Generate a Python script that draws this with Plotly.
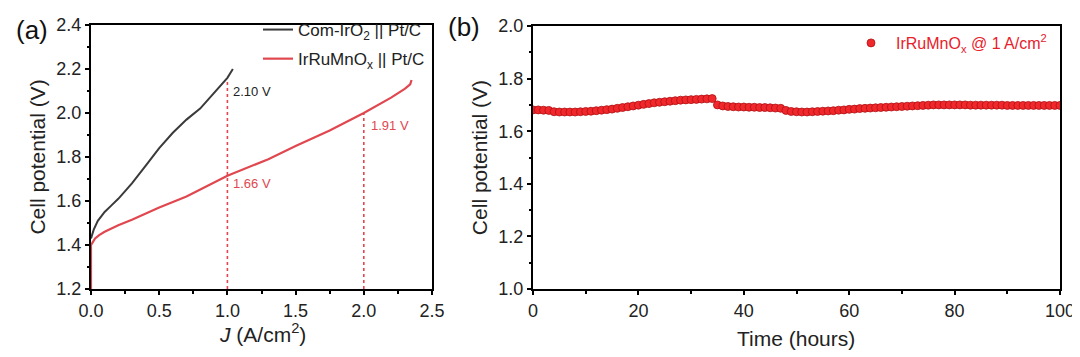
import plotly.graph_objects as go

# ---------------- Panel (a) data: polarization curves ----------------
com_J = [0.0, 0.02, 0.05, 0.10, 0.15, 0.20, 0.25, 0.30, 0.40, 0.50, 0.60, 0.70, 0.80, 0.90, 1.00, 1.04]
com_V = [1.43, 1.47, 1.51, 1.55, 1.58, 1.61, 1.645, 1.68, 1.76, 1.84, 1.91, 1.97, 2.02, 2.09, 2.16, 2.20]

irru_J = [0.0, 0.0, 0.0, 0.01, 0.03, 0.06, 0.10, 0.20, 0.30, 0.50, 0.70, 1.00, 1.30, 1.50, 1.75, 2.00, 2.20, 2.30, 2.34, 2.35]
irru_V = [1.20, 1.30, 1.40, 1.41, 1.43, 1.445, 1.46, 1.49, 1.515, 1.57, 1.62, 1.715, 1.79, 1.85, 1.92, 2.00, 2.07, 2.11, 2.13, 2.15]

guide_J = [1.0, 2.0]
guide_top = [2.15, 2.0]
guide_bottom = 1.2

label_J = [1.03, 2.04, 1.03]
label_V = [2.10, 1.945, 1.68]
label_text = ["2.10 V", "1.91 V", "1.66 V"]
label_color = ["#222222", "#e0474f", "#e0474f"]

# ---------------- Panel (b) data: stability ----------------
stab_time = list(range(101))
stab_V = [
    1.681, 1.681, 1.680, 1.679, 1.674, 1.673, 1.673, 1.673, 1.673, 1.674,
    1.675, 1.676, 1.678, 1.680, 1.682, 1.684, 1.687, 1.690, 1.693, 1.696,
    1.699, 1.702, 1.705, 1.708, 1.710, 1.712, 1.714, 1.716, 1.718, 1.719,
    1.720, 1.721, 1.722, 1.723, 1.724, 1.700, 1.696, 1.694, 1.693, 1.692,
    1.692, 1.691, 1.691, 1.690, 1.690, 1.689, 1.688, 1.687, 1.679, 1.675,
    1.674, 1.673, 1.673, 1.674, 1.675, 1.676, 1.677, 1.678, 1.680, 1.681,
    1.683, 1.684, 1.686, 1.687, 1.688, 1.689, 1.690, 1.691, 1.692, 1.693,
    1.694, 1.695, 1.696, 1.697, 1.698, 1.699, 1.700, 1.700, 1.700, 1.700,
    1.700, 1.700, 1.700, 1.699, 1.699, 1.699, 1.699, 1.699, 1.699, 1.699,
    1.698, 1.698, 1.698, 1.698, 1.698, 1.698, 1.698, 1.698, 1.698, 1.698, 1.698,
]

RED = "#e0474f"
BLACK = "#3a3a3a"
FONT = "Liberation Sans"

# page has an 8px body margin: the figure is sized to fill the rest of the window
OFF = 8
W, H = 1080 - OFF, 357 - OFF


def px(X):
    return (X - OFF) / W


def py(Y):
    return 1 - (Y - OFF) / H


fig = go.Figure()

# dotted guide lines (panel a)
for j, top in zip(guide_J, guide_top):
    fig.add_trace(go.Scatter(x=[j, j], y=[guide_bottom, top], mode="lines",
                             line=dict(color=RED, width=1.6, dash="dot"),
                             showlegend=False, hoverinfo="skip",
                             xaxis="x", yaxis="y"))

fig.add_trace(go.Scatter(x=com_J, y=com_V, mode="lines", name="Com-IrO<sub>2</sub> || Pt/C",
                         line=dict(color=BLACK, width=2), xaxis="x", yaxis="y",
                         legend="legend", legendgroup="g1"))
fig.add_trace(go.Scatter(x=irru_J, y=irru_V, mode="lines", name="IrRuMnO<sub>x</sub> || Pt/C",
                         line=dict(color=RED, width=2.2), xaxis="x", yaxis="y",
                         legend="legend", legendgroup="g2"))

fig.add_trace(go.Scatter(x=stab_time, y=stab_V, mode="markers",
                         name="IrRuMnO<sub>x</sub> @ 1 A/cm<sup>2</sup>",
                         marker=dict(symbol="circle", size=8, color="#f0282c",
                                     line=dict(color="#b01014", width=0.8)),
                         xaxis="x2", yaxis="y2", legend="legend2"))

for j, v, t, c in zip(label_J, label_V, label_text, label_color):
    fig.add_annotation(x=j, y=v, xref="x", yref="y", text=t, showarrow=False,
                       xanchor="left", yanchor="middle",
                       font=dict(family=FONT, size=13, color=c))

axis_common = dict(showline=True, linecolor="black", linewidth=2, mirror=True,
                   ticks="outside", ticklen=4, tickwidth=2, tickcolor="black",
                   showgrid=False, zeroline=False, automargin=False,
                   tickfont=dict(family=FONT, size=18, color="#222222"))
minor_common = dict(ticks="outside", ticklen=2.5, tickwidth=2, tickcolor="black")

fig.update_layout(
    width=W, height=H,
    margin=dict(l=0, r=0, t=0, b=0),
    paper_bgcolor="white", plot_bgcolor="white",
    font=dict(family=FONT, color="#222222"),
    xaxis=dict(domain=[px(91), px(432)], range=[0, 2.5], dtick=0.5, tickformat=".1f",
               minor=dict(dtick=0.25, **minor_common),
               anchor="y", **axis_common),
    yaxis=dict(domain=[py(289), py(25)], range=[1.2, 2.4], dtick=0.2, tickformat=".1f",
               minor=dict(dtick=0.1, **minor_common),
               title=dict(text="Cell potential (V)", font=dict(family=FONT, size=21), standoff=5),
               anchor="x", **axis_common),
    xaxis2=dict(domain=[px(533), px(1060)], range=[0, 100], dtick=20,
                minor=dict(dtick=10, **minor_common),
                anchor="y2", **axis_common),
    yaxis2=dict(domain=[py(289), py(26)], range=[1.0, 2.0], dtick=0.2, tickformat=".1f",
                minor=dict(dtick=0.1, **minor_common),
                title=dict(text="Cell potential (V)", font=dict(family=FONT, size=21), standoff=5),
                anchor="x2", **axis_common),
    legend=dict(x=px(258), y=py(12), xanchor="left", yanchor="top",
                bgcolor="rgba(0,0,0,0)", font=dict(family=FONT, size=17),
                tracegroupgap=4, itemwidth=30),
    legend2=dict(x=px(846), y=py(26), xanchor="left", yanchor="top",
                 bgcolor="rgba(0,0,0,0)", font=dict(family=FONT, size=16, color="#e8202a"),
                 itemwidth=40),
)

# x-axis titles
fig.add_annotation(x=px(262), y=py(333), xref="paper", yref="paper",
                   text="<i>J</i> (A/cm<sup>2</sup>)", showarrow=False,
                   xanchor="center", yanchor="middle",
                   font=dict(family=FONT, size=21, color="#222222"))
fig.add_annotation(x=px(796), y=py(338), xref="paper", yref="paper",
                   text="Time (hours)", showarrow=False,
                   xanchor="center", yanchor="middle",
                   font=dict(family=FONT, size=21, color="#222222"))

# panel labels
fig.add_annotation(x=px(14), y=py(30), xref="paper", yref="paper", text="(a)",
                   showarrow=False, xanchor="left", yanchor="middle",
                   font=dict(family=FONT, size=26, color="#111111"))
fig.add_annotation(x=px(446), y=py(27), xref="paper", yref="paper", text="(b)",
                   showarrow=False, xanchor="left", yanchor="middle",
                   font=dict(family=FONT, size=26, color="#111111"))

fig.write_html("out.html")
